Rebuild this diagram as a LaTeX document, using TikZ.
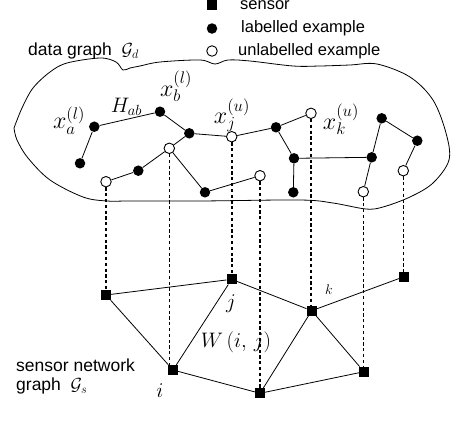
\RequirePackage{fix-cm}
\documentclass[tikz,border=0pt]{standalone}
\usepackage{fontspec}
\setmainfont{Liberation Sans}
\begin{document}
\begin{tikzpicture}[x=1pt,y=-1pt,
 lab/.style={circle,fill=black,inner sep=0pt,minimum size=10.5pt},
 unl/.style={circle,draw=black,fill=white,line width=0.9pt,inner sep=0pt,minimum size=10.5pt},
 sen/.style={rectangle,fill=black,inner sep=0pt,minimum size=10pt},
 edge/.style={line width=0.8pt},
 proj/.style={line width=1.6pt,dash pattern=on 3.2pt off 2.6pt},
 sans/.style={font=\fontsize{16.5}{18}\selectfont,inner sep=0pt},
 mth/.style={font=\fontsize{24}{26}\selectfont,inner sep=0pt},
 mths/.style={font=\fontsize{21}{23}\selectfont,inner sep=0pt}]
\useasboundingbox (0,0) rectangle (474,424);
% outline of data graph
\draw[edge] plot[smooth,tension=0.55] coordinates {(14,128) (22,108) (33,88) (50,72) (67,63) (100,58) (116,62) (123,70) (130,68) (140,66) (160,62) (200,60) (215,64) (228,60) (250,61) (293,66) (320,66) (350,65) (377,64) (410,77) (433,100) (446,133) (449,160) (433,183) (410,197) (383,207) (366,209) (333,203) (300,200) (200,201) (130,201) (107,201) (83,197) (50,180) (28,158) (17,140) (14,128)};
% legend
\node[sen] (legs) at (212,5) {};
\node[sans,anchor=west] (legst) at (240,5) {sensor};
\node[lab] (legl) at (212,28.5) {};
\node[sans,anchor=west] (leglt) at (241,28.5) {labelled example};
\node[unl] (legu) at (212,51) {};
\node[sans,anchor=west] (legut) at (238,51) {unlabelled example};
\node[font=\fontsize{17.5}{19}\selectfont,inner sep=0pt,anchor=west] (dg) at (28,51) {data graph\ \ $\mathcal{G}_d$};
% data graph nodes
\node[lab] (a) at (94.3,126.7) {};
\node[lab] (b) at (160,111.7) {};
\node[lab] (c) at (189.3,133.3) {};
\node[lab] (d) at (80,163.3) {};
\node[lab] (e) at (138.3,170.7) {};
\node[lab] (f) at (205,192.3) {};
\node[lab] (g) at (276,127.3) {};
\node[lab] (h) at (294,158.3) {};
\node[lab] (h2) at (293.3,192.3) {};
\node[lab] (m) at (371.7,157.3) {};
\node[lab] (n) at (381.7,118.3) {};
\node[lab] (o) at (417.3,140.7) {};
\node[unl] (p) at (106,181.7) {};
\node[unl] (q) at (169.3,148.3) {};
\node[unl] (xj) at (231.7,136.7) {};
\node[unl] (xk) at (311,113.3) {};
\node[unl] (r) at (260,175.7) {};
\node[unl] (s) at (363.3,191.7) {};
\node[unl] (t) at (403.3,170.7) {};
% sensors
\node[sen] (s1) at (106,295) {};
\node[sen] (j) at (231.7,279.3) {};
\node[sen] (k) at (311.7,310.7) {};
\node[sen] (s4) at (404,276.7) {};
\node[sen] (i) at (173,370) {};
\node[sen] (s6) at (260,393.3) {};
\node[sen] (s7) at (364,371.7) {};
% data edges
\draw[edge] (d)--(a) (a)--(b) (b)--(c) (c)--(xj) (xj)--(g) (g)--(xk) (g)--(h) (h)--(h2) (h)--(m) (m)--(n) (n)--(o) (o)--(t) (m)--(s) (p)--(e) (e)--(q) (q)--(c) (q)--(f) (f)--(r);
% sensor edges
\draw[edge] (s1)--(j) (s1)--(i) (i)--(j) (j)--(k) (k)--(s4) (k)--(s6) (k)--(s7) (i)--(s6) (s6)--(s7);
% projections
\draw[proj] (p)--(p|-s1.center);
\draw[proj] (q)--(q|-i.center);
\draw[proj] (xj)--(xj|-j.center);
\draw[proj] (r)--(r|-s6.center);
\draw[proj] (xk)--(xk|-k.center);
\draw[proj] (s)--(s|-s7.center);
\draw[proj] (t)--(t|-s4.center);
% labels
\node[mth] (la) at (69,121) {$x_a^{(l)}$};
\node[mths] (lh) at (126.5,107) {$H_{ab}$};
\node[mth] (lb) at (176,86) {$x_b^{(l)}$};
\node[mth] (lj) at (232,115) {$x_j^{(u)}$};
\node[mth] (lk) at (341,119) {$x_k^{(u)}$};
\node[mths] (tj) at (231,304) {$j$};
\node[font=\fontsize{14}{16}\selectfont,inner sep=0pt] (tk) at (329,290) {$k$};
\node[mths] (tw) at (236,342) {$W\,(i,\,j)$};
\node[mths] (ti) at (160,391) {$i$};
\node[font=\fontsize{17.5}{19}\selectfont,inner sep=0pt,anchor=west] (sn1) at (16,365) {sensor network};
\node[font=\fontsize{17.5}{19}\selectfont,inner sep=0pt,anchor=west] (sn2) at (16,386) {graph\ \ $\mathcal{G}_s$};
\end{tikzpicture}
\end{document}
